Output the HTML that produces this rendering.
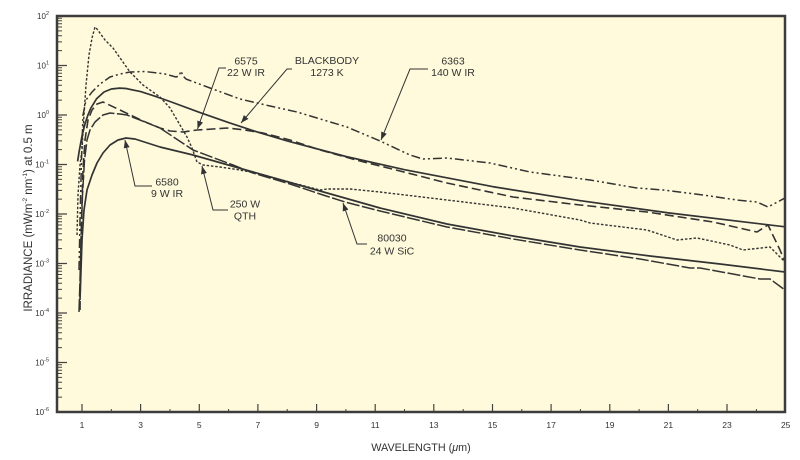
<!DOCTYPE html>
<html><head><meta charset="utf-8"><style>
html,body{margin:0;padding:0;background:#fff;}
svg{display:block;}
text{font-family:"Liberation Sans",Arial,sans-serif;fill:#333;}
</style></head><body>
<svg width="800" height="460" viewBox="0 0 800 460" xmlns="http://www.w3.org/2000/svg">
<defs>
<marker id="ah" markerWidth="8" markerHeight="6" refX="8" refY="3" orient="auto" markerUnits="userSpaceOnUse"><path d="M0,0L8,3L0,6z" fill="#333"/></marker>
<clipPath id="cp"><rect x="58" y="17" width="726" height="394"/></clipPath>
<g id="dec"><path d="M57,-14.9h5M57,-23.6h5M57,-29.8h5M57,-34.6h5M57,-38.5h5M57,-41.8h5M57,-44.7h5M57,-47.2h5" stroke="#444" stroke-width="1"/></g>
</defs>
<rect x="57" y="16" width="728" height="396" fill="#FEFADB"/>
<!-- y ticks -->
<use href="#dec" y="412"/><use href="#dec" y="362.5"/><use href="#dec" y="313"/><use href="#dec" y="263.5"/>
<use href="#dec" y="214"/><use href="#dec" y="164.5"/><use href="#dec" y="115"/><use href="#dec" y="65.5"/>
<path d="M57,65.5h10M57,115h10M57,164.5h10M57,214h10M57,263.5h10M57,313h10M57,362.5h10" stroke="#444" stroke-width="1.2"/>
<!-- x ticks -->
<path d="M82,412v-8M140.6,412v-8M199.3,412v-8M257.9,412v-8M316.6,412v-8M375.2,412v-8M433.8,412v-8M492.5,412v-8M551.1,412v-8M609.8,412v-8M668.4,412v-8M727,412v-8" stroke="#444" stroke-width="1.2"/>
<path d="M111.3,412v-3M170,412v-3M228.6,412v-3M287.2,412v-3M345.9,412v-3M404.5,412v-3M463.2,412v-3M521.8,412v-3M580.4,412v-3M639.1,412v-3M697.7,412v-3M756.4,412v-3" stroke="#444" stroke-width="1"/>

<g clip-path="url(#cp)" fill="none" stroke="#333" stroke-linejoin="round">
<!-- Blackbody -->
<polyline stroke-width="1.7" points="77.6,161.4 79.1,151.7 82,136 84.9,124.2 87.9,115.1 90.8,108.2 96.7,98.6 104,92 111.3,89 119.5,88.1 126,88.5 140.6,91.6 155.3,96.3 170,101.5 199.3,112.3 228.6,122.6 257.9,132.2 287.2,140.9 345.9,156.5 404.5,169.7 492.5,186.6 580.4,200.7 668.4,212.9 785.7,226.9"/>
<!-- 6363 dash-dot -->
<polyline stroke-width="1.5" stroke-dasharray="9,3,2,3,2,3" points="79,270 80,220 81.5,160 83,115 86,100 92,92 100,84 110,77 120,74 130,72 145,71.5 165,74 176,77 179,76 181,71 183,76 186,79 210,88 240,99 270,106 297,112 347,127 380,141 410,155 423,159 447,158 490,163 530,172 590,180 637,188 663,190 703,195 737,200 757,202 768,207 785,198"/>
<!-- QTH dotted -->
<polyline stroke-width="1.4" stroke-dasharray="2.5,1.8" points="77,235 78,195 80,165 82,150 84,115 86,85 89,55 92,38 95,27 97,29 105,40 113,48 130,72 143,85 160,97 170,108 180,125 187,137 192,148 197,162 203,165 220,167 240,170 260,174 293,183 320,190 327,189 350,189 380,192 447,200 513,208 580,220 590,223 647,230 677,240 697,238 730,245 743,250 770,247 785,262"/>
<!-- 6575 dashed -->
<polyline stroke-width="1.6" stroke-dasharray="9,4" points="80,310 80.5,270 81.5,220 83,170 85,140 88,120 92,110 97,104 103,102 120,110 143,121 160,128 170,131 183,132 197,130 213,129 227,128 245,130 263,133 290,140 320,150 360,161 400,171 447,183 513,197 580,205 647,212 713,222 757,232 768,225 780,250 785,262"/>
<!-- SiC long dash -->
<polyline stroke-width="1.5" stroke-dasharray="13,2.5" points="79,312 80,280 81,240 82.5,195 84.5,160 87,140 90,130 95,122 103,115 110,113 120,114 127,115 140,120 160,128 193,150 233,165 253,173 290,184 320,194 345,202 380,211 447,227 513,239 580,250 640,259 690,268 700,268 760,279 770,279 785,290"/>
<!-- 6580 solid -->
<polyline stroke-width="1.7" points="80,300 81,270 82,240 84,210 87,190 92,175 97,163 103,153 110,145 118,140 126,138 135,139 160,147 193,155 253,172 320,191 380,208 447,224 513,236 580,247 650,256 720,264 785,272"/>
</g>

<!-- frame -->
<rect x="57" y="16" width="728" height="396" fill="none" stroke="#3c3c3c" stroke-width="2.5"/>

<!-- leaders -->
<g fill="none" stroke="#333" stroke-width="1">
<polyline points="226,68 219,68 197.5,129" marker-end="url(#ah)"/>
<polyline points="292,69 287,69 241,123" marker-end="url(#ah)"/>
<polyline points="428,69 410,69 381,140" marker-end="url(#ah)"/>
<polyline points="152,186 135,186 125,140" marker-end="url(#ah)"/>
<polyline points="228,210 213,210 202,166" marker-end="url(#ah)"/>
<polyline points="367,244 357,244 343,203" marker-end="url(#ah)"/>
</g>

<!-- annotations -->
<g font-size="10.5" text-anchor="middle">
<text x="246" y="64.5">6575</text><text x="246" y="76">22 W IR</text>
<text x="327" y="64">BLACKBODY</text><text x="327" y="76">1273 K</text>
<text x="453" y="64.5">6363</text><text x="453" y="76">140 W IR</text>
<text x="167" y="185.5">6580</text><text x="167" y="197">9 W IR</text>
<text x="245" y="207.5">250 W</text><text x="245" y="219.5">QTH</text>
<text x="392" y="241.5">80030</text><text x="392" y="254.5">24 W SiC</text>
</g>

<!-- y tick labels -->
<g font-size="8" text-anchor="end">
<text x="49" y="19">10<tspan font-size="5.5" dy="-4">2</tspan></text>
<text x="49" y="68.5">10<tspan font-size="5.5" dy="-4">1</tspan></text>
<text x="49" y="118">10<tspan font-size="5.5" dy="-4">0</tspan></text>
<text x="49" y="167.5">10<tspan font-size="5.5" dy="-4">-1</tspan></text>
<text x="49" y="217">10<tspan font-size="5.5" dy="-4">-2</tspan></text>
<text x="49" y="266.5">10<tspan font-size="5.5" dy="-4">-3</tspan></text>
<text x="49" y="316">10<tspan font-size="5.5" dy="-4">-4</tspan></text>
<text x="49" y="365.5">10<tspan font-size="5.5" dy="-4">-5</tspan></text>
<text x="49" y="415">10<tspan font-size="5.5" dy="-4">-6</tspan></text>
</g>

<!-- x tick labels -->
<g font-size="8.5" text-anchor="middle">
<text x="82" y="428">1</text><text x="140.6" y="428">3</text><text x="199.3" y="428">5</text><text x="257.9" y="428">7</text>
<text x="316.6" y="428">9</text><text x="375.2" y="428">11</text><text x="433.8" y="428">13</text><text x="492.5" y="428">15</text>
<text x="551.1" y="428">17</text><text x="609.8" y="428">19</text><text x="668.4" y="428">21</text><text x="727" y="428">23</text>
<text x="785.7" y="428">25</text>
</g>

<!-- axis titles -->
<text x="421" y="451" font-size="10.8" text-anchor="middle">WAVELENGTH (<tspan font-style="italic">μ</tspan>m)</text>
<text transform="translate(32,218) rotate(-90)" font-size="11.5" text-anchor="middle">IRRADIANCE (mWm<tspan font-size="6.5" dy="-5">-2</tspan><tspan dy="5"> nm</tspan><tspan font-size="6.5" dy="-5">-1</tspan><tspan dy="5">) at 0.5 m</tspan></text>
</svg>
</body></html>
